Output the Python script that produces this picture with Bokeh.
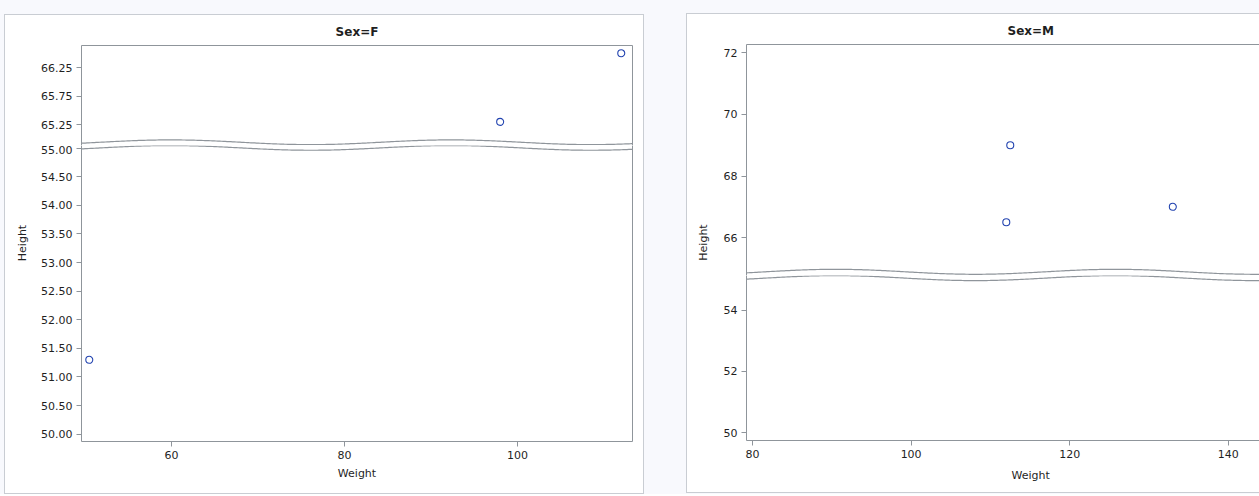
import numpy as np
from bokeh.plotting import figure
from bokeh.models import LinearAxis, FixedTicker, NumeralTickFormatter, Range1d, Title, Spacer
from bokeh.layouts import row, column
from bokeh.embed import file_html
from bokeh.resources import INLINE
from bokeh.core.properties import value

# ---------------- data ----------------
f_weight = [50.5, 98.0, 112.0]
f_height = [51.3, 65.3, 66.5]
m_weight = [112.0, 112.5, 133.0]
m_height = [66.5, 69.0, 67.0]

f_x_ticks = [60, 80, 100]
f_upper_ticks = [65.25, 65.75, 66.25]
f_lower_ticks = [50.0, 50.5, 51.0, 51.5, 52.0, 52.5, 53.0, 53.5, 54.0, 54.5, 55.0]
m_x_ticks = [80, 100, 120, 140]
m_upper_ticks = [66, 68, 70, 72]
m_lower_ticks = [50, 52, 54]

f_x_range = (49.6, 113.3)
f_upper_range = (64.887, 66.635)
f_lower_range = (49.872, 55.047)
m_x_range = (79.24, 143.93)
m_upper_range = (64.77, 72.27)
m_lower_range = (49.756, 55.122)

AXIS = "#8f959b"
TEXT = "#1f1f1f"
BLUE = "#2344b0"
FONT = "DejaVu Sans"
PAGE_BG = "#f8f9fd"
BORDER = "#c9cdd3"


def style_axis(ax, ticks, fmt=None):
    ax.ticker = FixedTicker(ticks=ticks)
    ax.minor_tick_line_color = None
    ax.axis_line_color = AXIS
    ax.major_tick_line_color = AXIS
    ax.major_tick_out = 5
    ax.major_tick_in = 0
    ax.major_label_standoff = 4
    ax.major_label_text_font = FONT
    ax.major_label_text_font_size = "11px"
    ax.major_label_text_color = TEXT
    if fmt:
        ax.formatter = NumeralTickFormatter(format=fmt)


def edge_axis(ax):
    ax.ticker = FixedTicker(ticks=[])
    ax.axis_line_color = AXIS
    ax.major_tick_line_color = None
    ax.minor_tick_line_color = None
    ax.major_tick_out = 0
    ax.major_tick_in = 0
    ax.major_label_standoff = 0
    ax.major_label_text_font_size = "0px"


def base_fig(width, height, xr, yr, bl, br, bt, bb, xloc):
    p = figure(width=width, height=height, x_range=Range1d(*xr), y_range=Range1d(*yr),
               output_backend="svg", toolbar_location=None,
               x_axis_location=xloc, y_axis_location="left",
               min_border_left=bl, min_border_right=br, min_border_top=bt, min_border_bottom=bb,
               background_fill_color="white", border_fill_color="white",
               outline_line_color=None)
    p.grid.visible = False
    return p


def add_wave(p, xr, mean, amp, x0, period):
    xs = np.linspace(xr[0], xr[1], 300)
    ys = mean + amp * np.cos(2 * np.pi * (xs - x0) / period)
    p.line(xs, ys, line_color=AXIS, line_width=1.2)


def label_fig(h, cx, cy):
    p = figure(width=28, height=h, x_range=Range1d(0, 28), y_range=Range1d(0, h),
               output_backend="svg", toolbar_location=None,
               x_axis_location=None, y_axis_location=None, min_border=0,
               outline_line_color=None, border_fill_color="white", background_fill_color="white")
    p.grid.visible = False
    p.text(x=[cx], y=[cy], text=["Height"], angle=np.pi / 2, text_align="center",
           text_baseline="middle", text_font=value(FONT), text_font_size="11px", text_color=TEXT)
    return p


def panel(weight, height, xr, ur, lr, xt, ut, lt, yfmt, title, main_w, up_h, low_h,
          bl, br, bt, bb, wave_u, wave_l, amp, x0, period, right_edge, title_offset,
          xlabel_offset, lab):
    up = base_fig(main_w, up_h, xr, ur, bl, br, bt, 0, "above")
    style_axis(up.yaxis[0], ut, yfmt)
    edge_axis(up.xaxis[0])
    if title_offset is None:
        up.title = Title(text=title, align="center", text_font=FONT, text_font_size="12px",
                         text_font_style="bold", text_color=TEXT, standoff=13)
    else:
        up.title = Title(text=title, align="left", offset=title_offset, text_font=FONT,
                         text_font_size="12px", text_font_style="bold", text_color=TEXT, standoff=13)
    up.scatter(weight, height, marker="circle", size=7, fill_color=None, line_color=BLUE, line_width=1.1)
    add_wave(up, xr, wave_u, amp, x0, period)

    lo = base_fig(main_w, low_h, xr, lr, bl, br, 0, bb, "below")
    style_axis(lo.yaxis[0], lt, yfmt)
    style_axis(lo.xaxis[0], xt)
    if xlabel_offset is None:
        lo.xaxis[0].axis_label = "Weight"
        lo.xaxis[0].axis_label_text_font = FONT
        lo.xaxis[0].axis_label_text_font_size = "11px"
        lo.xaxis[0].axis_label_text_font_style = "normal"
        lo.xaxis[0].axis_label_text_color = TEXT
        lo.xaxis[0].axis_label_standoff = 5
    else:
        # the M panel's frame runs past the window edge in the reference;
        # its axis label sits at the centre of the full frame
        lo.add_layout(Title(text="Weight", align="left", offset=xlabel_offset, text_font=FONT,
                            text_font_size="11px", text_font_style="normal", text_color=TEXT,
                            standoff=16, vertical_align="top"), "below")
    lo.scatter(weight, height, marker="circle", size=7, fill_color=None, line_color=BLUE, line_width=1.1)
    add_wave(lo, xr, wave_l, amp, x0, period)

    if right_edge:
        ra = LinearAxis()
        edge_axis(ra)
        up.add_layout(ra, "right")
        rb = LinearAxis()
        edge_axis(rb)
        lo.add_layout(rb, "right")
    return lab, column(up, lo)


# Sex=F panel
labF, mainF = panel(f_weight, f_height, f_x_range, f_upper_range, f_lower_range,
                    f_x_ticks, f_upper_ticks, f_lower_ticks, "0.00", "Sex=F",
                    610, 130, 348, 48, 11, 30, 52,
                    64.944, 55.005, 0.0411, 59.9, 32.4, True, None, None,
                    label_fig(478, 16.7, 250.5))
panelF = row(labF, mainF, styles={"border": "1px solid " + BORDER, "background-color": "white"})

# Sex=M panel
labM, mainM = panel(m_weight, m_height, m_x_range, m_upper_range, m_lower_range,
                    m_x_ticks, m_upper_ticks, m_lower_ticks, "0", "Sex=M",
                    544, 261, 217, 31, 0, 30, 52,
                    64.89, 55.037, 0.081, 90.46, 35.3, False, 261, 265,
                    label_fig(478, 16.0, 250.0))
panelM = row(labM, mainM, styles={"border-left": "1px solid " + BORDER,
                                  "border-top": "1px solid " + BORDER,
                                  "border-bottom": "1px solid " + BORDER,
                                  "background-color": "white"})

root = column(
    Spacer(height=13),
    row(Spacer(width=4), column(Spacer(height=1), panelF), Spacer(width=42), panelM),
    styles={"background-color": PAGE_BG},
)

open("out.html", "w").write(file_html(root, INLINE))
